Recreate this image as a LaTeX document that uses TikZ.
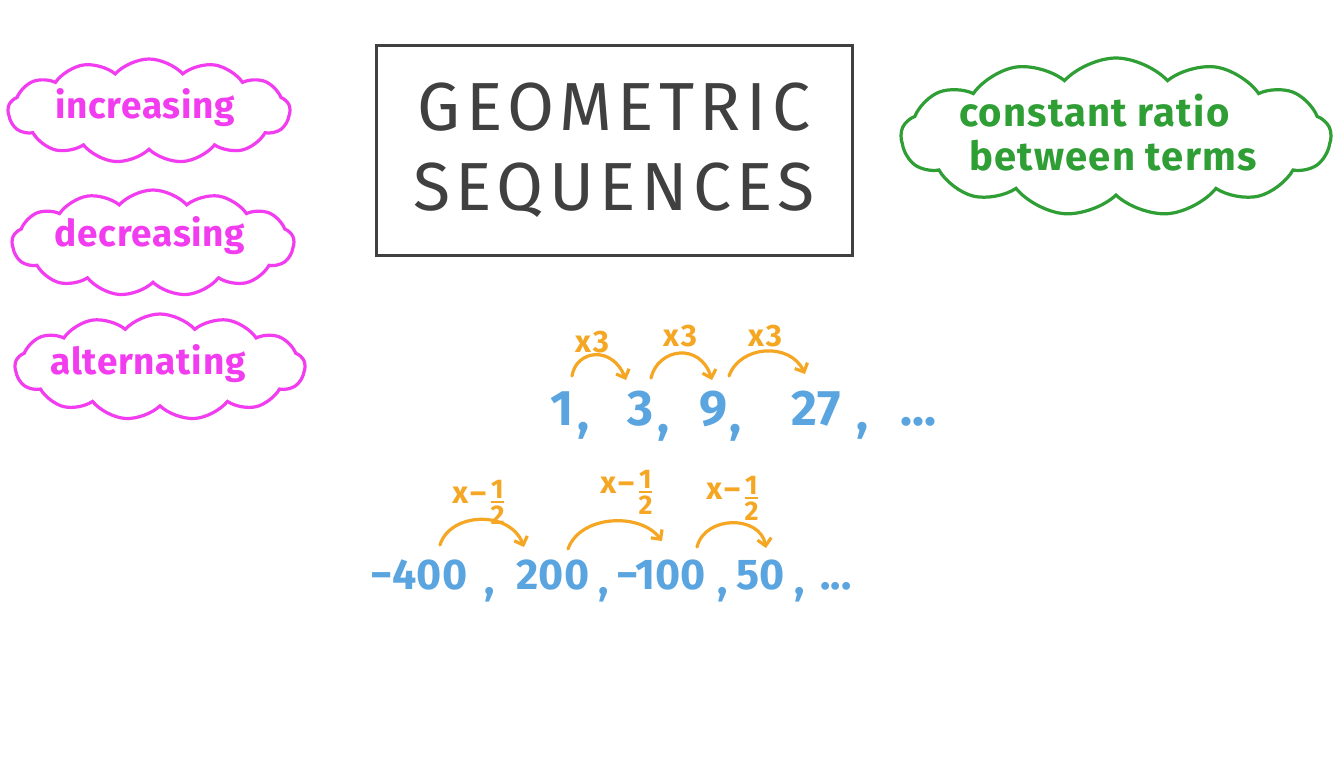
\documentclass[tikz,border=0pt]{standalone}
\usepackage{amsmath}
\usepackage{fontspec}
\setmainfont{Fira Sans}
\usetikzlibrary{shapes.symbols,arrows.meta}
\definecolor{pinkc}{HTML}{F23CF0}
\definecolor{greenc}{HTML}{2E9E35}
\definecolor{bluec}{HTML}{5AA5DF}
\definecolor{orangec}{HTML}{F5A623}
\definecolor{greyc}{HTML}{404040}
\tikzset{
  cloudbox/.style={cloud, cloud puffs=13, cloud puff arc=95, cloud ignores aspect, draw, line width=3.2pt, inner sep=0pt},
  pinkcloud/.style={cloudbox, draw=pinkc},
  pinktext/.style={text=pinkc, font=\fontsize{37}{39}\selectfont\bfseries\addfontfeatures{LetterSpace=2}},
  term/.style={text=bluec, anchor=base, inner sep=0pt},
  bigterm/.style={term, font=\fontsize{50}{52}\selectfont\bfseries},
  smallterm/.style={term, font=\fontsize{43}{45}\selectfont\bfseries},
  mult/.style={text=orangec, font=\fontsize{31}{33}\selectfont\bfseries\addfontfeatures{LetterSpace=6}, inner sep=0pt},
  arr/.style={draw=orangec, line width=3.2pt, line cap=round, -{Straight Barb[length=7pt,width=14pt,line width=3.2pt]}},
}
\newcommand{\halfsym}{x\hspace{2pt}–\hspace{3pt}\raisebox{-0.25ex}{\fontsize{27}{27}\selectfont$\genfrac{}{}{2.4pt}{}{\mbox{\bfseries 1}}{\mbox{\bfseries 2}}$}}
\begin{document}
\begin{tikzpicture}[x=1pt,y=-1pt]
\useasboundingbox (0,0) rectangle (1344,756);
\fill[white] (0,0) rectangle (1344,756);
% clouds
\node[pinkcloud, minimum width=282pt, minimum height=104pt] (inc) at (149,111) {};
\node[pinktext] (inct) at (145,108) {increasing};
\node[pinkcloud, minimum width=282pt, minimum height=106pt] (dec) at (153,243) {};
\node[pinktext] (dect) at (150,236) {decreasing};
\node[pinkcloud, minimum width=290pt, minimum height=106pt] (alt) at (160,367) {};
\node[pinktext] (altt) at (148,364) {alternating};
\node[cloudbox, draw=greenc, minimum width=430pt, minimum height=158pt] (ratio) at (1116,137) {};
\node[text=greenc, align=left, font=\fontsize{40}{44}\selectfont\bfseries\addfontfeatures{LetterSpace=3}] (ratiot) at (1108,133) {constant ratio\\\hspace*{0.25em}between terms};
% title
\node[draw=greyc, line width=3pt, text=greyc, minimum width=476pt, minimum height=210pt, align=center,
      font=\fontsize{68}{80}\selectfont\addfontfeatures{LetterSpace=8}] (title) at (614,150) {GEOMETRIC\\SEQUENCES};
% top sequence
\node[bigterm] (a1) at (562,425) {1};
\node[bigterm] (k1) at (583,430) {,};
\node[bigterm] (a2) at (640,425) {3};
\node[bigterm] (k2) at (663,432) {,};
\node[bigterm] (a3) at (713,425) {9};
\node[bigterm] (k3) at (735,432) {,};
\node[bigterm] (a4) at (816,425) {27};
\node[bigterm] (k4) at (862,430) {,};
\node[bigterm] (a5) at (918,425) {...};
\coordinate (s1) at (572,376); \coordinate (e1) at (626,380);
\coordinate (s2) at (651,378); \coordinate (e2) at (712,380);
\coordinate (s3) at (729,376); \coordinate (e3) at (805,374);
\draw[arr] (s1) .. controls (576,350) and (612,345) .. (e1);
\draw[arr] (s2) .. controls (658,348) and (700,342) .. (e2);
\draw[arr] (s3) .. controls (740,345) and (790,342) .. (e3);
\node[mult] (m1) at (592,342) {x3};
\node[mult] (m2) at (680,336) {x3};
\node[mult] (m3) at (765,336) {x3};
% bottom sequence
\node[smallterm] (b1) at (419,589) {−400};
\node[smallterm] (l1) at (490,594) {,};
\node[smallterm] (b2) at (553,589) {200};
\node[smallterm] (l2) at (604,594) {,};
\node[smallterm] (b3) at (661,589) {−100};
\node[smallterm] (l3) at (723,594) {,};
\node[smallterm] (b4) at (761,589) {50};
\node[smallterm] (l4) at (800,594) {,};
\node[smallterm] (b5) at (836,589) {...};
\coordinate (t1) at (440,545); \coordinate (f1) at (524,547);
\coordinate (t2) at (568,549); \coordinate (f2) at (662,541);
\coordinate (t3) at (697,547); \coordinate (f3) at (766,548);
\draw[arr] (t1) .. controls (450,512) and (510,510) .. (f1);
\draw[arr] (t2) .. controls (580,515) and (640,512) .. (f2);
\draw[arr] (t3) .. controls (705,515) and (760,515) .. (f3);
\node[mult] (n1) at (479,502) {\halfsym};
\node[mult] (n2) at (627,492) {\halfsym};
\node[mult] (n3) at (733,498) {\halfsym};
\end{tikzpicture}
\end{document}
